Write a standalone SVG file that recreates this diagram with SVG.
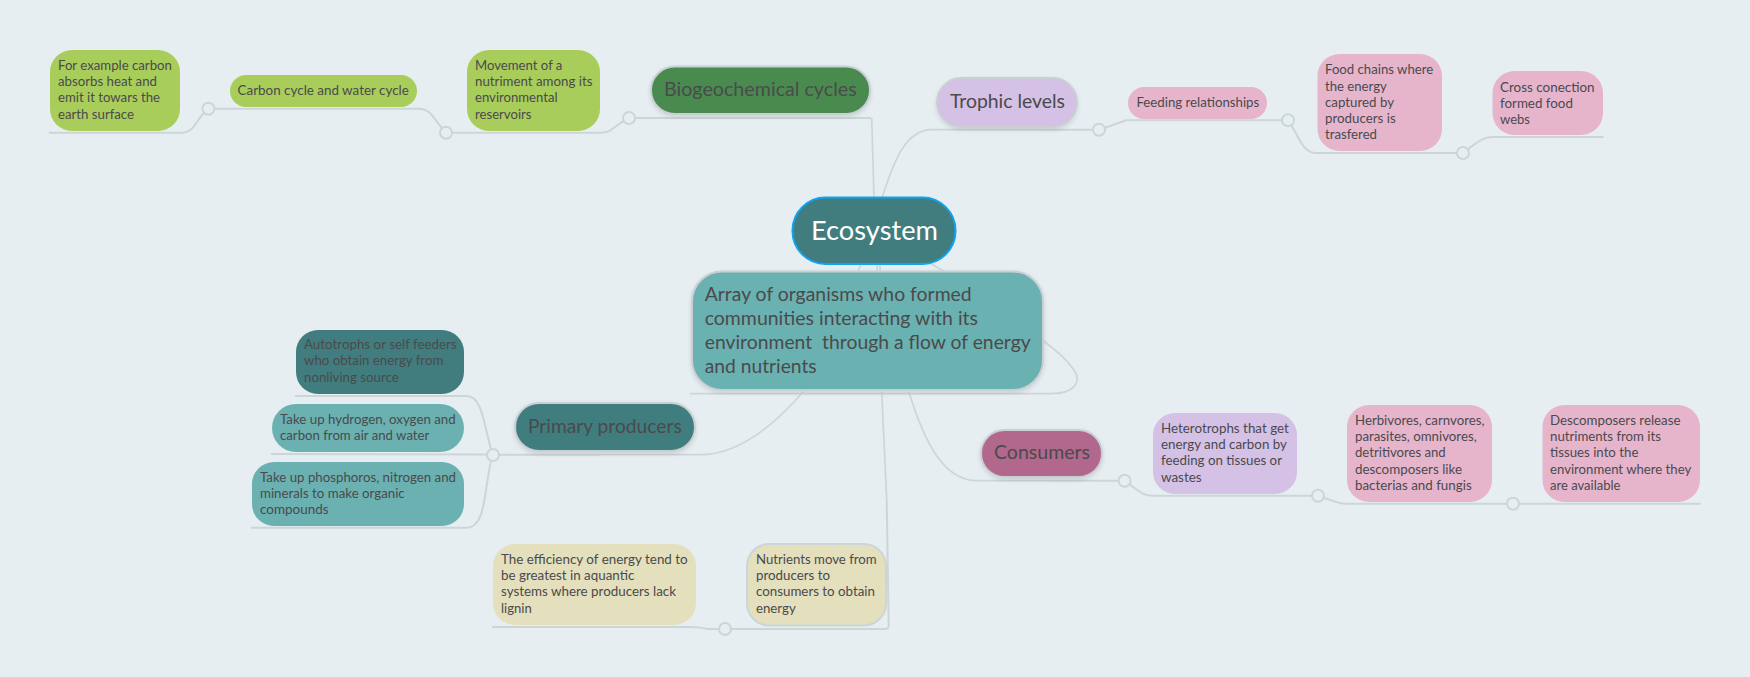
<svg xmlns="http://www.w3.org/2000/svg" width="1750" height="677" viewBox="0 0 1750 677">
<defs>
<filter id="sh" x="-10%" y="-20%" width="120%" height="150%"><feDropShadow dx="0" dy="2" stdDeviation="2" flood-color="#000" flood-opacity="0.12"/></filter>
</defs>
<style>
text{font-family:"Lato","Liberation Sans",sans-serif;fill:#4a4a4c;font-size:13.2px}
text.m{font-size:19.5px}
text.a{font-size:18.5px}
.line{fill:none;stroke:#ccd5d8;stroke-width:2}
.root{fill:none;stroke:#cfd5d7;stroke-width:1.7}
.dot{fill:#e6eef1;stroke:#ccd5d8;stroke-width:2}
.main{stroke:#c9cfd3;stroke-width:2;filter:url(#sh)}
.lg{fill:#a9cd5a}.dg{fill:#488a50}.dt{fill:#417d7e}.lt{fill:#6bb1b1}.pk{fill:#e6b5cc}.li{fill:#d4c1e5}.mg{fill:#b1688c}.be{fill:#e4dfbd}
</style>
<rect width="1750" height="677" fill="#e6eef1"/>
<g id="connectors">
<path class="root" d="M874 198L871.7 118"/>
<path class="root" d="M882 198C894 160 906 129.7 932 129.7H1040"/>
<path class="root" d="M861 264L857 274M877 262V274M880 262V274M928 262L945 272"/>
<path class="root" d="M690 393.7H1050C1075 393.7 1082 382 1074 370C1066 358 1055 350 1040 338"/>
<path class="root" d="M803 392C770 430 735 454.7 700 454.7H600"/>
<path class="root" d="M881.7 392L886.7 500"/>
<path class="root" d="M909 392C925 445 945 480.7 977 480.7H1050"/>
<path class="line" d="M886.7 500L888.7 625Q888.7 629 885 629H731"/>
<path class="line" d="M719 629H707Q700 627 690 627H492"/>
<path class="line" d="M49 132.7H182C194 132.7 197 119 204 113"/>
<path class="line" d="M214.5 108.7H419C431 108.7 435 121 442 128"/>
<path class="line" d="M452 132.7H601C612 132.700 615 125 624 121"/>
<path class="line" d="M635 118H871"/>
<path class="line" d="M1040 129.7H1093"/>
<path class="line" d="M1104.5 128L1126 120.3H1282"/>
<path class="line" d="M1291 125C1299 137 1303 153 1316 153H1457"/>
<path class="line" d="M1468 149C1477 143 1482 137 1493 137H1603.6"/>
<path class="line" d="M1050 480.7H1118"/>
<path class="line" d="M1129 484C1138 490 1142 495.7 1153 495.7H1312"/>
<path class="line" d="M1324 498C1332 500 1337 503.7 1345 503.7H1507"/>
<path class="line" d="M1519 503.7H1700.6"/>
<path class="line" d="M600 454.7H499"/>
<path class="line" d="M487 454.5Q440 454 271 454"/>
<path class="line" d="M295 396H467C482 396 484 425 491 449"/>
<path class="line" d="M491 461C484 490 486 527.7 467 527.7H251"/>
<circle class="dot" cx="208.4" cy="108.7" r="6"/>
<circle class="dot" cx="446" cy="132.7" r="6"/>
<circle class="dot" cx="629" cy="118" r="6"/>
<circle class="dot" cx="1099" cy="129.7" r="6"/>
<circle class="dot" cx="1288" cy="120.3" r="6"/>
<circle class="dot" cx="1463" cy="153" r="6"/>
<circle class="dot" cx="1124.6" cy="480.7" r="6"/>
<circle class="dot" cx="1318" cy="495.7" r="6"/>
<circle class="dot" cx="1513" cy="503.7" r="6"/>
<circle class="dot" cx="493" cy="455" r="6"/>
<circle class="dot" cx="725" cy="629" r="6"/>
</g>
<g id="ecosystem"><rect x="792.500" y="197.500" width="163" height="66.500" rx="33" fill="#417d7e" stroke="#0ea5f0" stroke-width="2"/><text x="811" y="240" style="fill:#fff;font-size:26.5px" textLength="127" lengthAdjust="spacingAndGlyphs">Ecosystem</text></g>
<g id="array"><rect class="main lt" x="692" y="271.500" width="351" height="118.500" rx="30"/>
<text class="a" x="704.700" y="300.700" textLength="267" lengthAdjust="spacingAndGlyphs">Array of organisms who formed</text>
<text class="a" x="704.700" y="324.700" textLength="273.300" lengthAdjust="spacingAndGlyphs">communities interacting with its</text>
<text class="a" xml:space="preserve" style="white-space:pre" x="704.700" y="348.700" textLength="326" lengthAdjust="spacingAndGlyphs">environment  through a flow of energy</text>
<text class="a" x="704.700" y="372.700" textLength="112" lengthAdjust="spacingAndGlyphs">and nutrients</text></g>
<g id="biogeochemical"><rect class="main dg" x="651" y="66.500" width="219" height="47.500" rx="23.700"/><text class="m" x="664" y="96" textLength="192.700" lengthAdjust="spacingAndGlyphs">Biogeochemical cycles</text></g>
<g id="trophic"><rect class="main li" x="937" y="78" width="140" height="49" rx="24.500"/><text class="m" x="950" y="108" textLength="115" lengthAdjust="spacingAndGlyphs">Trophic levels</text></g>
<g id="consumers"><rect class="main mg" x="981" y="430" width="121" height="47" rx="23.500"/><text class="m" x="994" y="458.700" textLength="96" lengthAdjust="spacingAndGlyphs">Consumers</text></g>
<g id="primary"><rect class="main dt" x="515" y="403" width="180" height="48" rx="24"/><text class="m" x="528" y="433" textLength="153.700" lengthAdjust="spacingAndGlyphs">Primary producers</text></g>
<g id="n-example"><rect class="lg" x="50" y="50" width="130" height="81" rx="22"/>
<text x="58" y="70" textLength="113.900" lengthAdjust="spacingAndGlyphs">For example carbon</text>
<text x="58" y="86" textLength="99" lengthAdjust="spacingAndGlyphs">absorbs heat and</text>
<text x="58" y="102" textLength="102" lengthAdjust="spacingAndGlyphs">emit it towars the</text>
<text x="58" y="118.700" textLength="76" lengthAdjust="spacingAndGlyphs">earth surface</text></g>
<g id="n-carbon"><rect class="lg" x="230" y="75" width="187" height="32" rx="16"/><text x="237.600" y="95" textLength="171.200" lengthAdjust="spacingAndGlyphs">Carbon cycle and water cycle</text></g>
<g id="n-movement"><rect class="lg" x="467" y="50" width="133" height="81" rx="22"/>
<text x="475" y="70" textLength="87.400" lengthAdjust="spacingAndGlyphs">Movement of a</text>
<text x="475" y="86" textLength="117.400" lengthAdjust="spacingAndGlyphs">nutriment among its</text>
<text x="475" y="102" textLength="82.600" lengthAdjust="spacingAndGlyphs">environmental</text>
<text x="475" y="118.700" textLength="56.500" lengthAdjust="spacingAndGlyphs">reservoirs</text></g>
<g id="n-feeding"><rect class="pk" x="1128" y="87" width="139" height="32" rx="16"/><text x="1136.400" y="107" textLength="122.900" lengthAdjust="spacingAndGlyphs">Feeding relationships</text></g>
<g id="n-food"><rect class="pk" x="1317.500" y="54" width="124.500" height="97" rx="22"/>
<text x="1325" y="74.300" textLength="108.200" lengthAdjust="spacingAndGlyphs">Food chains where</text>
<text x="1325" y="90.500" textLength="61.800" lengthAdjust="spacingAndGlyphs">the energy</text>
<text x="1325" y="106.700" textLength="69" lengthAdjust="spacingAndGlyphs">captured by</text>
<text x="1325" y="123" textLength="70.700" lengthAdjust="spacingAndGlyphs">producers is</text>
<text x="1325" y="139.200" textLength="52" lengthAdjust="spacingAndGlyphs">trasfered</text></g>
<g id="n-cross"><rect class="pk" x="1492.500" y="71" width="110.500" height="64" rx="22"/>
<text x="1500" y="91.700" textLength="94.600" lengthAdjust="spacingAndGlyphs">Cross conection</text>
<text x="1500" y="108" textLength="72.900" lengthAdjust="spacingAndGlyphs">formed food</text>
<text x="1500" y="124" textLength="30" lengthAdjust="spacingAndGlyphs">webs</text></g>
<g id="n-hetero"><rect class="li" x="1153" y="413" width="144" height="81" rx="22"/>
<text x="1161" y="432.700" textLength="127.800" lengthAdjust="spacingAndGlyphs">Heterotrophs that get</text>
<text x="1161" y="449" textLength="125.900" lengthAdjust="spacingAndGlyphs">energy and carbon by</text>
<text x="1161" y="465" textLength="121" lengthAdjust="spacingAndGlyphs">feeding on tissues or</text>
<text x="1161" y="481.700" textLength="40.600" lengthAdjust="spacingAndGlyphs">wastes</text></g>
<g id="n-herb"><rect class="pk" x="1347" y="405" width="145" height="97" rx="22"/>
<text x="1355" y="424.700" textLength="129.400" lengthAdjust="spacingAndGlyphs">Herbivores, carnvores,</text>
<text x="1355" y="441" textLength="121.700" lengthAdjust="spacingAndGlyphs">parasites, omnivores,</text>
<text x="1355" y="457" textLength="90.700" lengthAdjust="spacingAndGlyphs">detritivores and</text>
<text x="1355" y="473.700" textLength="107" lengthAdjust="spacingAndGlyphs">descomposers like</text>
<text x="1355" y="490" textLength="116.700" lengthAdjust="spacingAndGlyphs">bacterias and fungis</text></g>
<g id="n-desc"><rect class="pk" x="1542.500" y="405" width="157.500" height="97" rx="22"/>
<text x="1550" y="424.700" textLength="130.500" lengthAdjust="spacingAndGlyphs">Descomposers release</text>
<text x="1550" y="441" textLength="111" lengthAdjust="spacingAndGlyphs">nutriments from its</text>
<text x="1550" y="457" textLength="88.400" lengthAdjust="spacingAndGlyphs">tissues into the</text>
<text x="1550" y="473.700" textLength="141.200" lengthAdjust="spacingAndGlyphs">environment where they</text>
<text x="1550" y="490" textLength="70.400" lengthAdjust="spacingAndGlyphs">are available</text></g>
<g id="n-auto"><rect class="dt" x="296" y="330" width="168" height="64" rx="22"/>
<text x="304" y="349.300" textLength="152.700" lengthAdjust="spacingAndGlyphs">Autotrophs or self feeders</text>
<text x="304" y="365.300" textLength="139.300" lengthAdjust="spacingAndGlyphs">who obtain energy from</text>
<text x="304" y="381.500" textLength="94.700" lengthAdjust="spacingAndGlyphs">nonliving source</text></g>
<g id="n-hydrogen"><rect class="lt" x="272" y="404" width="192" height="48" rx="24"/>
<text x="280" y="424" textLength="175.700" lengthAdjust="spacingAndGlyphs">Take up hydrogen, oxygen and</text>
<text x="280" y="440" textLength="149.300" lengthAdjust="spacingAndGlyphs">carbon from air and water</text></g>
<g id="n-phos"><rect class="lt" x="252" y="462" width="212" height="64" rx="22"/>
<text x="260" y="482" textLength="196" lengthAdjust="spacingAndGlyphs">Take up phosphoros, nitrogen and</text>
<text x="260" y="498" textLength="144.700" lengthAdjust="spacingAndGlyphs">minerals to make organic</text>
<text x="260" y="514" textLength="68.700" lengthAdjust="spacingAndGlyphs">compounds</text></g>
<g id="n-eff"><rect class="be" x="493" y="544" width="203" height="81" rx="22"/>
<text x="501" y="564" textLength="186.700" lengthAdjust="spacingAndGlyphs">The efficiency of energy tend to</text>
<text x="501" y="580" textLength="133.300" lengthAdjust="spacingAndGlyphs">be greatest in aquantic</text>
<text x="501" y="596" textLength="175" lengthAdjust="spacingAndGlyphs">systems where producers lack</text>
<text x="501" y="612.700" textLength="30.700" lengthAdjust="spacingAndGlyphs">lignin</text></g>
<g id="n-nutr"><rect class="be" x="747" y="544" width="139" height="81.500" rx="22" stroke="#ccd5d8" stroke-width="2"/>
<text x="756" y="564" textLength="120.700" lengthAdjust="spacingAndGlyphs">Nutrients move from</text>
<text x="756" y="580" textLength="74" lengthAdjust="spacingAndGlyphs">producers to</text>
<text x="756" y="596" textLength="119" lengthAdjust="spacingAndGlyphs">consumers to obtain</text>
<text x="756" y="612.700" textLength="39.700" lengthAdjust="spacingAndGlyphs">energy</text></g>
</svg>
